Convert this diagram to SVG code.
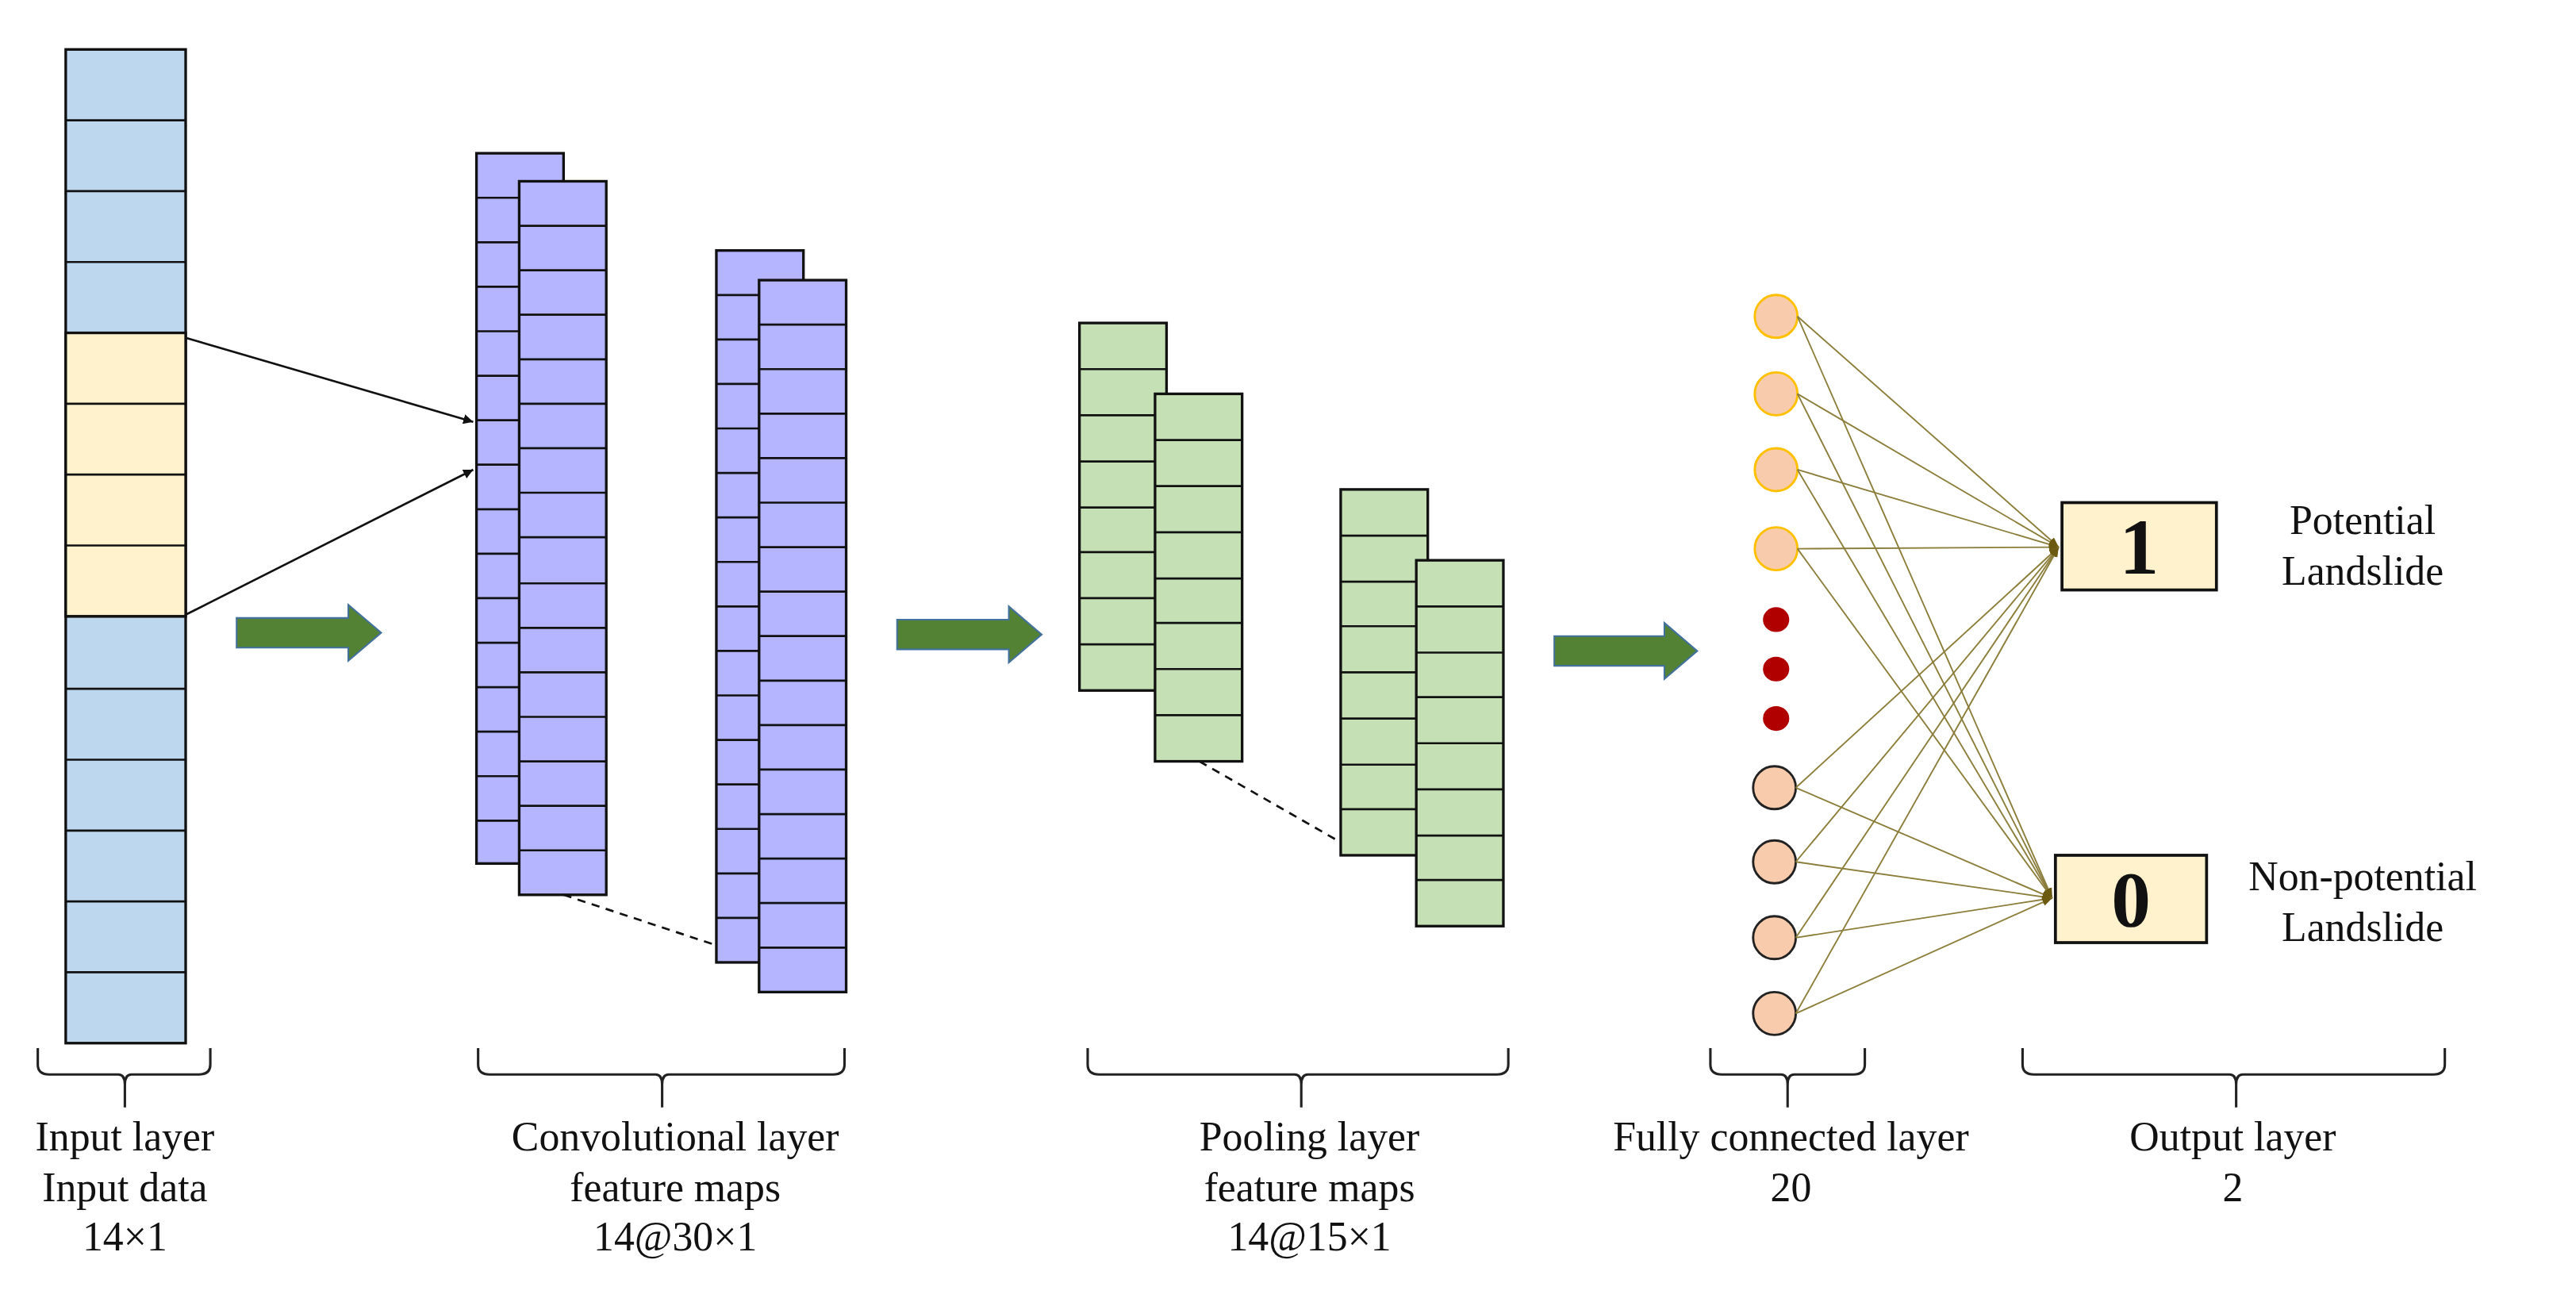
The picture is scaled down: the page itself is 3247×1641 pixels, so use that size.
<svg xmlns="http://www.w3.org/2000/svg" width="3247" height="1641" viewBox="0 0 3247 1641">
<defs>
<style>
.cell{stroke:#111;stroke-width:1.6}
.ln{stroke:#111;stroke-width:1.3;fill:none}
.blue{fill:#bdd7ee}.yel{fill:#fff2cc}.pur{fill:#b4b4ff}.grn{fill:#c5e0b4}
.big{fill:#548235;stroke:#41719c;stroke-width:1}
.brace{fill:none;stroke:#222;stroke-width:1.5}
.t{font-family:"Liberation Serif","Times New Roman",serif;font-size:25px;fill:#111;text-anchor:middle}
.fc{stroke:#8b7d3a;stroke-width:0.9;fill:none}
.nodeY{fill:#f8cbad;stroke:#ffc000;stroke-width:1.4}
.nodeB{fill:#f8cbad;stroke:#222;stroke-width:1.4}
.dot{fill:#b00000}
.outb{fill:#fff2cc;stroke:#111;stroke-width:1.8}
.num{font-family:"Liberation Serif","Times New Roman",serif;font-size:48px;font-weight:bold;fill:#111;text-anchor:middle}
</style>
<marker id="ah" viewBox="0 0 10 10" refX="10" refY="5" markerWidth="6" markerHeight="6" orient="auto" markerUnits="userSpaceOnUse"><path d="M0,0 L10,5 L0,10 Z" fill="#111"/></marker>
<marker id="oh" viewBox="0 0 10 10" refX="10" refY="5" markerWidth="6" markerHeight="6" orient="auto" markerUnits="userSpaceOnUse"><path d="M0,1 L10,5 L0,9 Z" fill="#6b5a10"/></marker>
</defs>
<rect width="3247" height="1641" fill="#fff"/>
<g transform="scale(2.071,2.077)">
<g id="input">
<rect class="cell blue" x="40" y="30" width="73" height="603"/>
<rect class="cell yel" x="40" y="202" width="73" height="172"/>
<path class="ln" d="M40,73H113M40,116H113M40,159H113M40,202H113M40,245H113M40,288H113M40,331H113M40,374H113M40,418H113M40,461H113M40,504H113M40,547H113M40,590H113"/>
</g>
<g id="conv">
<rect class="cell pur" x="290" y="93" width="53" height="431"/>
<path class="ln" d="M290,120H343M290,147H343M290,174H343M290,201H343M290,228H343M290,255H343M290,282H343M290,309H343M290,336H343M290,363H343M290,390H343M290,417H343M290,444H343M290,471H343M290,498H343"/>
<rect class="cell pur" x="316" y="110" width="53" height="433"/>
<path class="ln" d="M316,137H369M316,164H369M316,191H369M316,218H369M316,245H369M316,272H369M316,299H369M316,326H369M316,354H369M316,381H369M316,408H369M316,435H369M316,462H369M316,489H369M316,516H369"/>
<rect class="cell pur" x="436" y="152" width="53" height="432"/>
<path class="ln" d="M436,179H489M436,206H489M436,233H489M436,260H489M436,287H489M436,314H489M436,341H489M436,368H489M436,395H489M436,422H489M436,449H489M436,476H489M436,503H489M436,530H489M436,557H489"/>
<rect class="cell pur" x="462" y="170" width="53" height="432"/>
<path class="ln" d="M462,197H515M462,224H515M462,251H515M462,278H515M462,305H515M462,332H515M462,359H515M462,386H515M462,413H515M462,440H515M462,467H515M462,494H515M462,521H515M462,548H515M462,575H515"/>
</g>
<g id="pool">
<rect class="cell grn" x="657" y="196" width="53" height="223"/>
<path class="ln" d="M657,224H710M657,252H710M657,280H710M657,308H710M657,335H710M657,363H710M657,391H710"/>
<rect class="cell grn" x="703" y="239" width="53" height="223"/>
<path class="ln" d="M703,267H756M703,295H756M703,323H756M703,351H756M703,378H756M703,406H756M703,434H756"/>
<rect class="cell grn" x="816" y="297" width="53" height="222"/>
<path class="ln" d="M816,325H869M816,353H869M816,380H869M816,408H869M816,436H869M816,464H869M816,491H869"/>
<rect class="cell grn" x="862" y="340" width="53" height="222"/>
<path class="ln" d="M862,368H915M862,396H915M862,423H915M862,451H915M862,479H915M862,507H915M862,534H915"/>
</g>
<g id="fc">
<circle class="nodeY" cx="1081" cy="192" r="13"/>
<circle class="nodeY" cx="1081" cy="239" r="13"/>
<circle class="nodeY" cx="1081" cy="285" r="13"/>
<circle class="nodeY" cx="1081" cy="333" r="13"/>
<ellipse class="dot" cx="1081" cy="376" rx="8" ry="7.5"/>
<ellipse class="dot" cx="1081" cy="406" rx="8" ry="7.5"/>
<ellipse class="dot" cx="1081" cy="436" rx="8" ry="7.5"/>
<circle class="nodeB" cx="1080" cy="478" r="13"/>
<circle class="nodeB" cx="1080" cy="523" r="13"/>
<circle class="nodeB" cx="1080" cy="569" r="13"/>
<circle class="nodeB" cx="1080" cy="615" r="13"/>
</g>
<g id="output">
<rect class="outb" x="1255" y="305" width="94" height="53"/>
<text class="num" x="1302" y="348">1</text>
<rect class="outb" x="1251" y="519" width="92" height="53"/>
<text class="num" x="1297" y="562">0</text>
<text class="t" x="1438" y="324">Potential</text>
<text class="t" x="1438" y="355">Landslide</text>
<text class="t" x="1438" y="540">Non-potential</text>
<text class="t" x="1438" y="571">Landslide</text>
</g>
<g id="connectors">
<line class="ln" x1="113" y1="205" x2="288" y2="256" stroke-width="0.8" marker-end="url(#ah)"/>
<line class="ln" x1="113" y1="373" x2="288" y2="285" stroke-width="0.8" marker-end="url(#ah)"/>
<line class="ln" x1="343" y1="543" x2="434" y2="573" stroke-dasharray="5,4"/>
<line class="ln" x1="730" y1="462" x2="814" y2="510" stroke-dasharray="5,4"/>
<path class="big" d="M144,375H212V367L232,384L212,401V393H144Z"/>
<path class="big" d="M546,376H614V368L634,385L614,402V394H546Z"/>
<path class="big" d="M946,386H1013V378L1033,395L1013,412V404H946Z"/>
<g marker-end="url(#oh)">
<line class="fc" x1="1094" y1="192" x2="1253" y2="332"/>
<line class="fc" x1="1094" y1="239" x2="1253" y2="332"/>
<line class="fc" x1="1094" y1="285" x2="1253" y2="332"/>
<line class="fc" x1="1094" y1="333" x2="1253" y2="332"/>
<line class="fc" x1="1093" y1="478" x2="1253" y2="332"/>
<line class="fc" x1="1093" y1="523" x2="1253" y2="332"/>
<line class="fc" x1="1093" y1="569" x2="1253" y2="332"/>
<line class="fc" x1="1093" y1="615" x2="1253" y2="332"/>
<line class="fc" x1="1094" y1="192" x2="1249" y2="545"/>
<line class="fc" x1="1094" y1="239" x2="1249" y2="545"/>
<line class="fc" x1="1094" y1="285" x2="1249" y2="545"/>
<line class="fc" x1="1094" y1="333" x2="1249" y2="545"/>
<line class="fc" x1="1093" y1="478" x2="1249" y2="545"/>
<line class="fc" x1="1093" y1="523" x2="1249" y2="545"/>
<line class="fc" x1="1093" y1="569" x2="1249" y2="545"/>
<line class="fc" x1="1093" y1="615" x2="1249" y2="545"/>
</g>
</g>
<g id="labels">
<path class="brace" d="M23,636V646Q23,652 30,652H72Q76,652 76,658V672M76,658Q76,652 80,652H121Q128,652 128,646V636"/>
<path class="brace" d="M291,636V646Q291,652 298,652H399Q403,652 403,658V672M403,658Q403,652 407,652H507Q514,652 514,646V636"/>
<path class="brace" d="M662,636V646Q662,652 669,652H788Q792,652 792,658V672M792,658Q792,652 796,652H911Q918,652 918,646V636"/>
<path class="brace" d="M1041,636V646Q1041,652 1048,652H1084Q1088,652 1088,658V672M1088,658Q1088,652 1092,652H1128Q1135,652 1135,646V636"/>
<path class="brace" d="M1231,636V646Q1231,652 1238,652H1357Q1361,652 1361,658V672M1361,658Q1361,652 1365,652H1481Q1488,652 1488,646V636"/>
<text class="t" x="76" y="698">Input layer</text>
<text class="t" x="76" y="729">Input data</text>
<text class="t" x="76" y="759">14×1</text>
<text class="t" x="411" y="698">Convolutional layer</text>
<text class="t" x="411" y="729">feature maps</text>
<text class="t" x="411" y="759">14@30×1</text>
<text class="t" x="797" y="698">Pooling layer</text>
<text class="t" x="797" y="729">feature maps</text>
<text class="t" x="797" y="759">14@15×1</text>
<text class="t" x="1090" y="698">Fully connected layer</text>
<text class="t" x="1090" y="729">20</text>
<text class="t" x="1359" y="698">Output layer</text>
<text class="t" x="1359" y="729">2</text>
</g>
</g>
</svg>
